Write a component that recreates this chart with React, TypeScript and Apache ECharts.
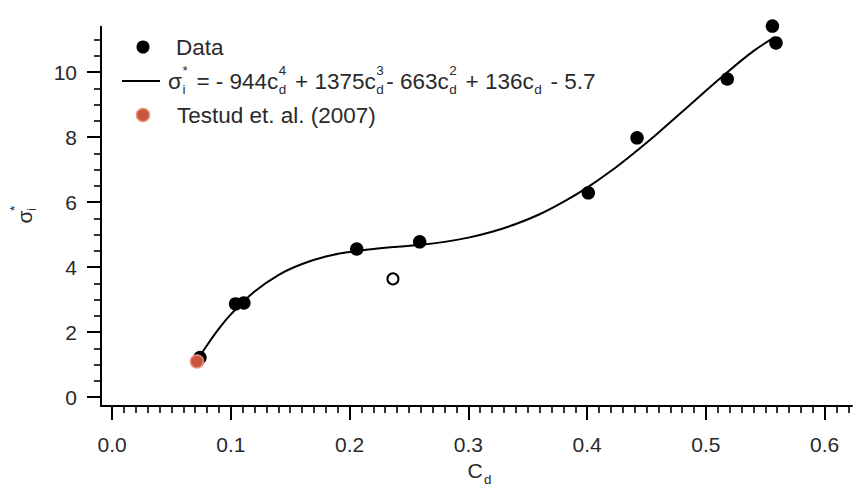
import React, { useEffect, useRef } from "react";
import * as echarts from "echarts";

// ---------- data ----------
const xMajorTicks = [0, 0.1, 0.2, 0.3, 0.4, 0.5, 0.6];
const yMajorTicks = [0, 2, 4, 6, 8, 10];
const xMinorStep = 0.01;
const yMinorStep = 0.5;
const X_MIN = -0.0093;
const X_MAX = 0.623;
const Y_MIN = -0.27;
const Y_MAX = 11.4;

const dataX = [0.074, 0.104, 0.111, 0.206, 0.259, 0.401, 0.442, 0.518, 0.556, 0.559];
const dataY = [1.22, 2.87, 2.9, 4.56, 4.78, 6.29, 7.98, 9.79, 11.42, 10.9];

const excludedX = [0.2365];
const excludedY = [3.64];

const testudX = [0.0715];
const testudY = [1.1];

const fitX = [0.071, 0.08, 0.09, 0.1, 0.12, 0.14, 0.16, 0.18, 0.2, 0.22, 0.24, 0.26, 0.28, 0.3, 0.32, 0.34, 0.36, 0.38, 0.4, 0.42, 0.44, 0.46, 0.48, 0.5, 0.52, 0.54, 0.558];
const fitY = [1.1, 1.6, 2.11, 2.55, 3.25, 3.76, 4.1, 4.33, 4.47, 4.56, 4.63, 4.69, 4.78, 4.91, 5.09, 5.33, 5.63, 6.01, 6.45, 6.96, 7.53, 8.14, 8.78, 9.43, 10.06, 10.65, 11.08];

const legendData = "Data";
const legendTestud = "Testud et. al. (2007)";
const formulaParts: { t?: string; sup?: string; sub?: string }[] = [
  { t: "σ" },
  { sup: "*", sub: "i" },
  { t: " = - 944c" },
  { sup: "4", sub: "d" },
  { t: " + 1375c" },
  { sup: "3", sub: "d" },
  { t: "- 663c" },
  { sup: "2", sub: "d" },
  { t: " + 136c" },
  { sub: "d" },
  { t: " - 5.7" },
];

// ---------- styling ----------
const FONT = '"Liberation Sans", Arial, sans-serif';
const FS = 21;
const LFS = 22.5;
const SFS = 13.5;
const TXT = "#2a2a2a";
const RED = "#c9573f";

function zip(xs: number[], ys: number[]) {
  return xs.map((x, i) => [x, ys[i]]);
}

function stepTicks(from: number, to: number, step: number) {
  const out: number[] = [];
  const n = Math.floor((to - from) / step + 1e-9);
  for (let i = 0; i <= n; i++) out.push(Math.round((from + i * step) * 1000) / 1000);
  return out;
}

let measureCtx: CanvasRenderingContext2D | null = null;
function measure(text: string, size: number) {
  if (!measureCtx) measureCtx = document.createElement("canvas").getContext("2d");
  measureCtx!.font = `${size}px ${FONT}`;
  return measureCtx!.measureText(text).width;
}

function buildFormula(x0: number, y: number) {
  const children: any[] = [];
  let x = x0;
  for (const p of formulaParts) {
    if (p.t !== undefined) {
      children.push({
        type: "text",
        x,
        y,
        style: { text: p.t, font: `${LFS}px ${FONT}`, fill: TXT, align: "left", verticalAlign: "middle" },
      });
      x += measure(p.t, LFS);
    } else {
      let w = 0;
      if (p.sup) {
        children.push({
          type: "text",
          x: x + 0.5,
          y: y - 10.5,
          style: { text: p.sup, font: `${SFS}px ${FONT}`, fill: TXT, align: "left", verticalAlign: "middle" },
        });
        w = Math.max(w, measure(p.sup, SFS));
      }
      if (p.sub) {
        children.push({
          type: "text",
          x: x + 0.5,
          y: y + 8,
          style: { text: p.sub, font: `${SFS}px ${FONT}`, fill: TXT, align: "left", verticalAlign: "middle" },
        });
        w = Math.max(w, measure(p.sub, SFS));
      }
      x += w + 3;
    }
  }
  return children;
}

export default function App() {
  const ref = useRef<HTMLDivElement>(null);

  useEffect(() => {
    if (!ref.current) return;
    const chart = echarts.init(ref.current, null, { renderer: "svg" });

    const xMinor = stepTicks(0, 0.62, xMinorStep);
    const yMinor = stepTicks(0, 11, yMinorStep);

    const axisLineStyle = { color: "#000", width: 2 };
    const labelStyle = { fontSize: FS, color: TXT, fontFamily: FONT };

    const option: any = {
      animation: false,
      backgroundColor: "#fff",
      grid: { left: 101, right: 4, top: 26.7, bottom: 79, containLabel: false },
      xAxis: [
        {
          type: "value",
          min: X_MIN,
          max: X_MAX,
          position: "bottom",
          axisLine: { show: true, onZero: false, lineStyle: axisLineStyle },
          axisTick: { show: true, customValues: xMajorTicks, length: 14, lineStyle: { color: "#000", width: 2 } },
          axisLabel: {
            show: true,
            customValues: xMajorTicks,
            margin: 28,
            formatter: (v: number) => v.toFixed(1),
            ...labelStyle,
          },
          splitLine: { show: false },
        },
        {
          type: "value",
          min: X_MIN,
          max: X_MAX,
          position: "bottom",
          axisLine: { show: false, onZero: false },
          axisTick: { show: true, customValues: xMinor, length: 7, lineStyle: { color: "#000", width: 1.6 } },
          axisLabel: { show: false },
          splitLine: { show: false },
        },
      ],
      yAxis: [
        {
          type: "value",
          min: Y_MIN,
          max: Y_MAX,
          position: "left",
          axisLine: { show: true, onZero: false, lineStyle: axisLineStyle },
          axisTick: { show: true, customValues: yMajorTicks, length: 14, lineStyle: { color: "#000", width: 2 } },
          axisLabel: {
            show: true,
            customValues: yMajorTicks,
            margin: 24,
            formatter: (v: number) => String(v),
            ...labelStyle,
          },
          splitLine: { show: false },
        },
        {
          type: "value",
          min: Y_MIN,
          max: Y_MAX,
          position: "left",
          axisLine: { show: false, onZero: false },
          axisTick: { show: true, customValues: yMinor, length: 7, lineStyle: { color: "#000", width: 1.6 } },
          axisLabel: { show: false },
          splitLine: { show: false },
        },
      ],
      series: [
        {
          name: "fit",
          type: "line",
          xAxisIndex: 0,
          yAxisIndex: 0,
          data: zip(fitX, fitY),
          smooth: 0.4,
          showSymbol: false,
          symbol: "none",
          clip: false,
          lineStyle: { color: "#000", width: 2 },
          z: 2,
        },
        {
          name: legendData,
          type: "scatter",
          xAxisIndex: 0,
          yAxisIndex: 0,
          data: zip(dataX, dataY),
          symbol: "circle",
          symbolSize: 13.5,
          clip: false,
          itemStyle: { color: "#000", opacity: 1 },
          z: 3,
        },
        {
          name: "excluded",
          type: "scatter",
          xAxisIndex: 0,
          yAxisIndex: 0,
          data: zip(excludedX, excludedY),
          symbol: "circle",
          symbolSize: 11,
          clip: false,
          itemStyle: { color: "#fff", borderColor: "#000", borderWidth: 2, opacity: 1 },
          z: 3,
        },
        {
          name: legendTestud,
          type: "scatter",
          xAxisIndex: 0,
          yAxisIndex: 0,
          data: zip(testudX, testudY),
          symbol: "circle",
          symbolSize: 13,
          clip: false,
          itemStyle: { color: RED, borderColor: "#e7907a", borderWidth: 1.5, opacity: 1 },
          z: 4,
        },
      ],
      graphic: [
        // legend
        { type: "circle", shape: { cx: 143, cy: 47, r: 6.5 }, style: { fill: "#000" } },
        {
          type: "text",
          x: 176,
          y: 47,
          style: { text: legendData, font: `${LFS}px ${FONT}`, fill: TXT, align: "left", verticalAlign: "middle" },
        },
        { type: "line", shape: { x1: 122, y1: 81, x2: 160, y2: 81 }, style: { stroke: "#000", lineWidth: 2 } },
        { type: "group", children: buildFormula(168, 81) },
        { type: "circle", shape: { cx: 143, cy: 115, r: 6.5 }, style: { fill: RED, stroke: "#e7907a", lineWidth: 1.5 } },
        {
          type: "text",
          x: 177,
          y: 115,
          style: { text: legendTestud, font: `${LFS}px ${FONT}`, fill: TXT, align: "left", verticalAlign: "middle" },
        },
        // x axis name: C_d
        {
          type: "group",
          children: [
            {
              type: "text",
              x: 475,
              y: 470,
              style: { text: "C", font: `${FS}px ${FONT}`, fill: TXT, align: "center", verticalAlign: "middle" },
            },
            {
              type: "text",
              x: 484,
              y: 479,
              style: { text: "d", font: `${SFS}px ${FONT}`, fill: TXT, align: "left", verticalAlign: "middle" },
            },
          ],
        },
        // y axis name: σ_i^* rotated
        {
          type: "group",
          x: 24,
          y: 217,
          rotation: Math.PI / 2,
          children: [
            {
              type: "text",
              x: 0,
              y: 0,
              style: { text: "σ", font: `${FS}px ${FONT}`, fill: TXT, align: "center", verticalAlign: "middle" },
            },
            {
              type: "text",
              x: 6,
              y: -10,
              style: { text: "*", font: `${SFS}px ${FONT}`, fill: TXT, align: "left", verticalAlign: "middle" },
            },
            {
              type: "text",
              x: 6,
              y: 7,
              style: { text: "i", font: `${SFS}px ${FONT}`, fill: TXT, align: "left", verticalAlign: "middle" },
            },
          ],
        },
      ],
    };

    chart.setOption(option);
    return () => chart.dispose();
  }, []);

  return (
    <div
      ref={ref}
      style={{ position: "absolute", left: 0, top: 0, width: 856, height: 485, background: "#fff" }}
    />
  );
}
